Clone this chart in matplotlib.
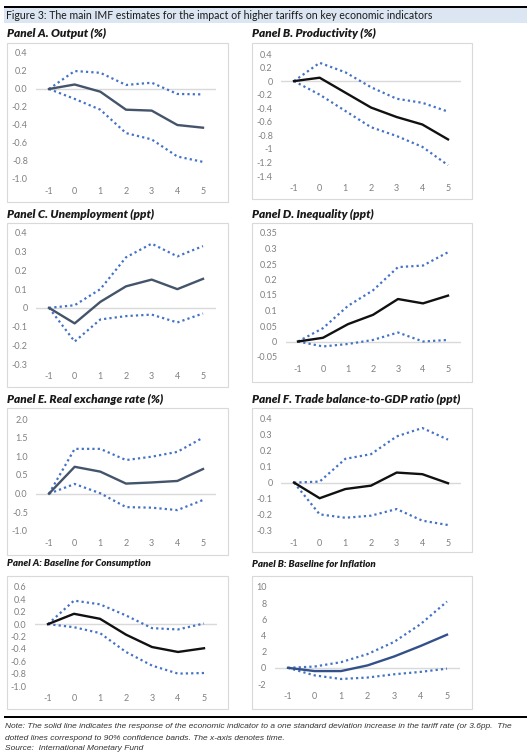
import matplotlib.pyplot as plt
from matplotlib.patches import Rectangle

W, H = 531, 753

horizon = [-1, 0, 1, 2, 3, 4, 5]

# Panel A. Output
output_mid = [0, 0.05, -0.03, -0.23, -0.24, -0.40, -0.43]
output_hi = [0, 0.20, 0.18, 0.045, 0.07, -0.055, -0.06]
output_lo = [0, -0.11, -0.23, -0.49, -0.56, -0.75, -0.81]

# Panel B. Productivity
prod_mid = [0, 0.05, -0.17, -0.39, -0.53, -0.64, -0.86]
prod_hi = [0, 0.27, 0.13, -0.09, -0.26, -0.32, -0.45]
prod_lo = [0, -0.20, -0.44, -0.68, -0.81, -0.97, -1.24]

# Panel C. Unemployment
unemp_mid = [0, -0.083, 0.032, 0.115, 0.151, 0.10, 0.155]
unemp_hi = [0, 0.014, 0.10, 0.27, 0.343, 0.275, 0.33]
unemp_lo = [0, -0.18, -0.062, -0.044, -0.036, -0.078, -0.03]

# Panel D. Inequality
ineq_mid = [0, 0.012, 0.056, 0.086, 0.137, 0.123, 0.148]
ineq_hi = [0, 0.043, 0.115, 0.165, 0.24, 0.245, 0.288]
ineq_lo = [0, -0.016, -0.008, 0.005, 0.029, 0.0, 0.005]

# Panel E. Real exchange rate
reer_mid = [0, 0.72, 0.59, 0.27, 0.30, 0.34, 0.66]
reer_hi = [0, 1.2, 1.2, 0.9, 0.99, 1.12, 1.5]
reer_lo = [0, 0.26, 0.01, -0.36, -0.375, -0.44, -0.17]

# Panel F. Trade balance
trade_mid = [0, -0.097, -0.04, -0.019, 0.062, 0.052, -0.004]
trade_hi = [0, 0.006, 0.147, 0.176, 0.286, 0.338, 0.266]
trade_lo = [0, -0.197, -0.218, -0.205, -0.164, -0.236, -0.263]

# Baseline for consumption
cons_mid = [0, 0.167, 0.086, -0.17, -0.37, -0.45, -0.39]
cons_hi = [0, 0.38, 0.32, 0.14, -0.065, -0.086, 0.01]
cons_lo = [0, -0.05, -0.145, -0.45, -0.67, -0.80, -0.79]

# Baseline for inflation
infl_mid = [0, -0.4, -0.4, 0.3, 1.4, 2.7, 4.1]
infl_hi = [0, 0.16, 0.7, 1.7, 3.2, 5.4, 8.2]
infl_lo = [0, -0.93, -1.38, -1.2, -0.8, -0.5, -0.1]

yticks_a = ['0.4', '0.2', '0.0', '-0.2', '-0.4', '-0.6', '-0.8', '-1.0']
yticks_b = ['0.4', '0.2', '0', '-0.2', '-0.4', '-0.6', '-0.8', '-1', '-1.2', '-1.4']
yticks_c = ['0.4', '0.3', '0.2', '0.1', '0', '-0.1', '-0.2', '-0.3']
yticks_d = ['0.35', '0.3', '0.25', '0.2', '0.15', '0.1', '0.05', '0', '-0.05']
yticks_e = ['2.0', '1.5', '1.0', '0.5', '0.0', '-0.5', '-1.0']
yticks_f = ['0.4', '0.3', '0.2', '0.1', '0', '-0.1', '-0.2', '-0.3']
yticks_cons = ['0.6', '0.4', '0.2', '0.0', '-0.2', '-0.4', '-0.6', '-0.8', '-1.0']
yticks_infl = ['10', '8', '6', '4', '2', '0', '-2']

SLATE = '#44546a'
BLACK = '#111111'
NAVY = '#34508a'
DOT = '#4472c4'

panels = [
    ('Panel A. Output (%)', output_mid, output_hi, output_lo, yticks_a, SLATE),
    ('Panel B. Productivity (%)', prod_mid, prod_hi, prod_lo, yticks_b, BLACK),
    ('Panel C. Unemployment (ppt)', unemp_mid, unemp_hi, unemp_lo, yticks_c, SLATE),
    ('Panel D. Inequality (ppt)', ineq_mid, ineq_hi, ineq_lo, yticks_d, BLACK),
    ('Panel E. Real exchange rate (%)', reer_mid, reer_hi, reer_lo, yticks_e, SLATE),
    ('Panel F. Trade balance-to-GDP ratio (ppt)', trade_mid, trade_hi, trade_lo, yticks_f, BLACK),
    ('Panel A: Baseline for Consumption', cons_mid, cons_hi, cons_lo, yticks_cons, BLACK),
    ('Panel B: Baseline for Inflation', infl_mid, infl_hi, infl_lo, yticks_infl, NAVY),
]

# pixel layout: (x of -1, x of 5, y of top tick, y of bottom tick, title y, box top, box bottom)
layout = [
    (49, 203, 53, 179, 33, 43, 202),
    (294, 448, 54, 176, 33, 43, 199),
    (49, 203, 233, 364, 214, 223, 387),
    (298, 448, 233, 357, 214, 223, 382),
    (49, 203, 419, 531, 399, 408, 555),
    (294, 448, 418, 531, 399, 408, 552),
    (48, 204, 587, 686, 564, 576, 709),
    (288, 447, 587, 684, 564, 576, 709),
]

plt.rcParams['font.family'] = ['Lato', 'DejaVu Sans']

fig = plt.figure(figsize=(W / 100, H / 100), dpi=100)
fig.patch.set_facecolor('white')


def fx(px):
    return px / W


def fy(py):
    return 1 - py / H


def band(x, y, w, h, **kw):
    # rectangle in pixel coords, drawn under the axes
    fig.add_artist(Rectangle((fx(x), fy(y + h)), w / W, h / H, transform=fig.transFigure,
                             zorder=-5, **kw))


# header
band(4, 6.5, 523, 1.8, color='black', lw=0)
band(4, 8.3, 523, 14.7, color='#dce6f2', lw=0)
fig.text(fx(6), fy(15.5), 'Figure 3: The main IMF estimates for the impact of higher tariffs on key economic indicators',
         fontsize=7.6, va='center', ha='left', color='#1a1a1a')

for i, (title, mid, hi, lo, ylabels, col) in enumerate(panels):
    x0, x5, ytop, ybot, ty, btop, bbot = layout[i]
    left_col = i % 2 == 0
    bx0, bx1 = (7, 228) if left_col else (252, 472)
    band(bx0, btop, bx1 - bx0, bbot - btop, facecolor='white', edgecolor='#d9d9d9', lw=0.8)
    small = i >= 6
    fig.text(fx(bx0), fy(ty), title, fontsize=7.0 if small else 8.5,
             fontweight='heavy', fontstyle='italic', va='center', ha='left', color='#1a1a1a')

    step = (x5 - x0) / 6
    ax = fig.add_axes([fx(x0 - step / 2), fy(ybot), (x5 - x0 + step) / W, (ybot - ytop) / H])
    ax.set_facecolor('none')
    yvals = [float(s) for s in ylabels]
    ax.set_xlim(-1.5, 5.5)
    ax.set_ylim(min(yvals), max(yvals))
    ax.axhline(0, color='#d9d9d9', lw=1.0, zorder=1)
    ax.plot(horizon, hi, color=DOT, lw=1.6, linestyle=(0, (1, 1.4)), zorder=2)
    ax.plot(horizon, lo, color=DOT, lw=1.6, linestyle=(0, (1, 1.4)), zorder=2)
    ax.plot(horizon, mid, color=col, lw=1.7, zorder=3)
    ax.set_yticks(yvals)
    ax.set_yticklabels(ylabels)
    ax.set_xticks(horizon)
    ax.set_xticklabels([str(h) for h in horizon])
    ax.tick_params(length=0, labelsize=6.5, colors='#808080')
    ax.tick_params(axis='y', pad=6)
    ax.tick_params(axis='x', pad=6)
    for s in ax.spines.values():
        s.set_visible(False)

# footer
band(4, 715.5, 523, 2, color='black', lw=0)
note_style = dict(fontsize=6.0, fontstyle='italic', va='center', ha='left',
                  color='#333333', family=['Liberation Sans', 'DejaVu Sans'])
fig.text(fx(5), fy(726), 'Note: The solid line indicates the response of the economic indicator to a one standard '
         'deviation increase in the tariff rate (or 3.6pp.  The', **note_style)
fig.text(fx(5), fy(738), 'dotted lines correspond to 90% confidence bands. The x-axis denotes time.', **note_style)
fig.text(fx(5), fy(748), 'Source:  International Monetary Fund', **note_style)

fig.savefig('out.png', dpi=100)
